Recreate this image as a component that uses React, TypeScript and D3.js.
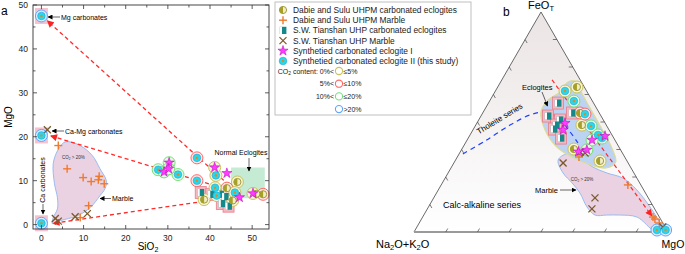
import React from 'react';
import * as d3 from 'd3';

type Pt = [number, number, number];
type Kind = 'dsEcl' | 'dsMar' | 'tsEcl' | 'tsMar' | 'syn1' | 'syn2';

// ===== Panel a: SiO2 (x) vs MgO (y), wt% ; third value = CO2 class (-1 none, 0: 0-5, 1: 5-10, 2: 10-20, 3: >20)
const aXTicks = [0, 10, 20, 30, 40, 50];
const aYTicks = [0, 10, 20, 30, 40, 50];
const aEndMembers: [string, number, number][] = [
  ['Mg carbonates', 0, 47.5],
  ['Ca-Mg carbonates', 0, 20.3],
  ['Ca carbonates', 0, 0.3],
];
const aSyn2: Pt[] = [
  [0, 47.5, 3], [0, 20.3, 3], [0, 0.3, 3], [27.7, 12.5, 2], [32.4, 11.4, 2], [36.9, 15.2, 1],
  [36.9, 10.0, 1], [41.4, 11.2, 0], [41.2, 8.4, 0], [41.6, 6.6, 0], [45.9, 7.3, 0],
];
const aSyn1: Pt[] = [
  [30.3, 14.1, 2], [29.1, 12.0, 2], [30.2, 12.7, 2], [41.1, 13.0, 0], [44.0, 11.7, -1], [47.0, 6.2, -1], [50.2, 7.1, 0],
];
const aDsEcl: Pt[] = [
  [46.5, 9.7, 0], [52.6, 6.9, 1], [38.6, 5.7, 0], [45.4, 5.5, 0], [44.0, 8.3, 1], [51.0, 7.0, -1],
];
const aTsEcl: Pt[] = [
  [37.8, 7.3, 1], [40.3, 6.9, 1], [42.5, 6.9, 1], [43.6, 6.4, 1], [42.8, 4.8, 1], [44.4, 4.2, 1],
];
const aDsMar: Pt[] = [
  [4.0, 18.0, -1], [6.1, 12.7, -1], [9.9, 10.7, -1], [11.8, 9.8, -1], [13.5, 10.2, -1], [13.7, 11.0, -1],
  [14.9, 9.3, -1], [11.2, 4.3, -1], [9.2, 1.6, -1],
];
const aTsMar: Pt[] = [
  [1.4, 21.6, -1], [3.3, 1.4, -1], [4.0, 0.8, -1], [8.0, 1.8, -1], [10.9, 2.5, -1],
];
// mixing lines: [from (eclogite end), to (carbonate end)]
const aMixLines: [number, number, number, number][] = [
  [44.5, 9.0, 1.4, 46.4],
  [44.5, 7.9, 2.2, 20.2],
  [43.5, 6.0, 2.8, 0.3],
];
const aMarbleOutline: [number, number][] = [
  [6.1, 18.9], [9.2, 18.0], [12.1, 15.7], [13.9, 12.7], [15.4, 10.0], [15.1, 8.2], [13.9, 6.6],
  [11.6, 3.9], [8.5, 2.0], [4.5, 0.9], [2.6, 0.2], [2.8, 1.6], [3.8, 3.6], [3.8, 6.1], [3.1, 9.3],
  [2.8, 13.9], [3.8, 16.8], [5.2, 18.6],
];
const aNormalEclogiteX = [45, 53];
const aNormalEclogiteY = [6, 13];

// ===== Panel b: ternary [FeOT %, MgO %] (Na2O+K2O = remainder)
const bTsEcl: Pt[] = [
  [58.6, 27.4, 1], [52.7, 26.4, 1], [54.1, 35.2, 1], [50.9, 32.0, 1], [48.6, 31.6, 1], [46.8, 31.7, 1], [42.7, 36.5, 1],
];
const bDsEcl: Pt[] = [
  [65.9, 31.2, 0], [54.1, 38.3, 1], [37.7, 44.1, 0], [32.3, 57.1, 0], [48.6, 41.8, 0],
];
const bSyn2: Pt[] = [
  [64.1, 27.4, 0], [59.5, 33.2, 2], [48.2, 45.6, 2], [44.1, 50.4, 2], [42.7, 52.7, 2], [53.6, 40.5, 1],
  [0.9, 95.2, 3], [0.9, 98.6, 3],
];
const bSyn1: Pt[] = [
  [49.5, 34.7, -1], [46.4, 35.5, -1], [41.8, 49.2, 2], [43.6, 53.4, -1], [37.3, 49.4, 2], [36.5, 46.5, -1],
];
const bTsMar: Pt[] = [
  [36.4, 47.2, -1], [35.9, 49.4, -1], [31.4, 43.0, -1], [15.5, 63.5, -1], [10.5, 64.8, -1], [2.3, 96.8, -1],
];
const bDsMar: Pt[] = [
  [34.1, 47.9, -1], [21.4, 73.5, -1], [6.8, 90.7, -1], [5.9, 91.9, -1], [4.1, 94.5, -1],
];
const bTholeiite: [number, number][] = [
  [35.5, 1.5], [41.4, 7.3], [48.6, 13.5], [53.2, 19.1], [54.5, 24.3], [51.8, 30.8], [45.5, 38.7], [40.5, 44.3],
];
const bTrend: [number, number][] = [[69.1, 19.8], [7.3, 90.0]];
const bEclogiteField: [number, number][] = [
  [63.6, 25.7], [68.2, 26.5], [68.6, 29.0], [63.6, 34.0], [58.2, 39.3], [48.6, 48.8], [38.2, 58.8],
  [31.8, 63.5], [29.1, 61.0], [30.9, 53.1], [34.5, 44.2], [39.1, 36.3], [46.4, 28.4], [54.5, 22.7], [60.0, 22.8],
];
const bMarbleField: [number, number][] = [
  [32.7, 40.4], [35.5, 42.5], [33.6, 48.5], [29.5, 55.7], [26.8, 62.6], [24.5, 70.0], [19.1, 78.2],
  [13.2, 85.2], [5.5, 93.5], [1.8, 97.0], [0.5, 94.6], [6.8, 84.4], [7.7, 77.2], [7.7, 72.1], [7.7, 67.4],
  [11.4, 62.4], [17.7, 56.5], [22.3, 51.1], [26.8, 45.3],
];

const legendKinds: Kind[] = ['dsEcl', 'dsMar', 'tsEcl', 'tsMar', 'syn1', 'syn2'];
const legendLabels = [
  'Dabie and Sulu UHPM carbonated eclogites',
  'Dabie and Sulu UHPM Marble',
  'S.W. Tianshan UHP carbonated eclogites',
  'S.W. Tianshan UHP Marble',
  'Synthetied carbonated eclogite I',
  'Synthetied carbonated eclogite II (this study)',
];
const co2Before = ['0%<', '5%<', '10%<', ''];
const co2After = ['≤5%', '≤10%', '≤20%', '>20%'];

// ===== styles
const FONT = 'Liberation Sans, Arial, sans-serif';
const ringStroke = ['#c8c25a', '#ff6868', '#78e078', '#5aa4ff'];
const ringFill = ['#f7f4d8', '#ffe4e4', '#e4f9e4', '#dcecff'];

// scales panel a
const A = { left: 33, right: 269, top: 5, bottom: 229 };
const xA = d3.scaleLinear().domain([-2, 54]).range([A.left, A.right]);
const yA = d3.scaleLinear().domain([-1, 50]).range([A.bottom, A.top]);

// ternary geometry
const TA = { x: 541, y: 12 };
const TL = { x: 414, y: 232 };
const TR = { x: 668, y: 232 };
const tern = (F: number, M: number): [number, number] => {
  const a = 100 - F - M;
  return [
    (a * TL.x + F * TA.x + M * TR.x) / 100,
    (a * TL.y + F * TA.y + M * TR.y) / 100,
  ];
};

const starPath = d3.symbol().type(d3.symbolStar).size(32)() as string;

function Glyph({ kind, x, y }: { kind: Kind; x: number; y: number }) {
  const t = `translate(${x},${y})`;
  switch (kind) {
    case 'dsEcl':
      return (
        <g transform={t}>
          <circle r={3.6} fill="#f1edc6" stroke="#8a861a" strokeWidth={0.8} />
          <path d="M0,-3.6 A3.6,3.6 0 0,0 0,3.6 Z" fill="#a6a126" />
        </g>
      );
    case 'dsMar':
      return (
        <g transform={t} stroke="#ee7a2e" strokeWidth={1.4}>
          <line x1={-4} x2={4} y1={0} y2={0} />
          <line x1={0} x2={0} y1={-4} y2={4} />
        </g>
      );
    case 'tsEcl':
      return (
        <g transform={t}>
          <rect x={-3.2} y={-3.6} width={6.6} height={7.2} fill="#15888a" />
          <rect x={-3.2} y={-3.6} width={2.2} height={7.2} fill="#ffffff" />
        </g>
      );
    case 'tsMar':
      return (
        <g transform={t} stroke="#7a5a2c" strokeWidth={1.3}>
          <line x1={-3.5} x2={3.5} y1={-3.5} y2={3.5} />
          <line x1={-3.5} x2={3.5} y1={3.5} y2={-3.5} />
        </g>
      );
    case 'syn1':
      return <path transform={t} d={starPath} fill="#ff3cff" stroke="#b000b0" strokeWidth={0.5} />;
    case 'syn2':
    default:
      return (
        <g transform={t}>
          <circle r={3.8} fill="#22dcec" stroke="#2a9fd6" strokeWidth={0.6} />
          <circle r={1.3} fill="#e3872c" />
        </g>
      );
  }
}

function Halo({ kind, x, y, c }: { kind: Kind; x: number; y: number; c: number }) {
  if (kind === 'tsEcl')
    return <rect x={x - 5.5} y={y - 6} width={11} height={12} fill="#f4b8c0" stroke="#e87c88" strokeWidth={0.8} />;
  if (c < 0) return null;
  return <circle cx={x} cy={y} r={6} fill={ringFill[c]} stroke={ringStroke[c]} strokeWidth={1} />;
}

type Series = { kind: Kind; pts: Pt[] };

export default function App() {
  const aSeries: Series[] = [
    { kind: 'dsMar', pts: aDsMar },
    { kind: 'tsMar', pts: aTsMar },
    { kind: 'tsEcl', pts: aTsEcl },
    { kind: 'dsEcl', pts: aDsEcl },
    { kind: 'syn2', pts: aSyn2 },
    { kind: 'syn1', pts: aSyn1 },
  ];
  const bSeries: Series[] = [
    { kind: 'dsMar', pts: bDsMar },
    { kind: 'tsMar', pts: bTsMar },
    { kind: 'tsEcl', pts: bTsEcl },
    { kind: 'dsEcl', pts: bDsEcl },
    { kind: 'syn2', pts: bSyn2 },
    { kind: 'syn1', pts: bSyn1 },
  ];

  const closedA = d3.line<[number, number]>().x((d) => xA(d[0])).y((d) => yA(d[1])).curve(d3.curveCatmullRomClosed.alpha(0.5));
  const closedB = d3.line<[number, number]>().x((d) => tern(d[0], d[1])[0]).y((d) => tern(d[0], d[1])[1]).curve(d3.curveCatmullRomClosed.alpha(0.5));
  const openB = d3.line<[number, number]>().x((d) => tern(d[0], d[1])[0]).y((d) => tern(d[0], d[1])[1]).curve(d3.curveCatmullRom.alpha(0.5));

  const xMinor = d3.range(5, 50, 10);
  const yMinor = d3.range(5, 50, 10);

  const ternTicks = d3.range(1, 8).map((i) => i / 8);

  return (
    <svg width={685} height={254} style={{ position: 'absolute', left: 0, top: 0, display: 'block' }} fontFamily={FONT}>
      <defs>
        <marker id="arrK" viewBox="0 0 10 10" refX="9" refY="5" markerWidth="5" markerHeight="5" orient="auto" markerUnits="userSpaceOnUse">
          <path d="M0,0 L10,5 L0,10 z" fill="#000" />
        </marker>
        <marker id="arrR" viewBox="0 0 10 10" refX="9" refY="5" markerWidth="8" markerHeight="7" orient="auto" markerUnits="userSpaceOnUse">
          <path d="M0,0 L10,5 L0,10 z" fill="#ff2020" />
        </marker>
        <linearGradient id="tgrad" x1="0" y1="0" x2="0" y2="1">
          <stop offset="0" stopColor="#ebe4e4" />
          <stop offset="1" stopColor="#ffffff" />
        </linearGradient>
      </defs>
      <rect width={685} height={254} fill="#fff" />

      {/* ================= Panel a ================= */}
      <text x={1} y={15} fontSize={12}>a</text>
      <rect
        x={xA(aNormalEclogiteX[0])}
        y={yA(aNormalEclogiteY[1])}
        width={xA(aNormalEclogiteX[1]) - xA(aNormalEclogiteX[0])}
        height={yA(aNormalEclogiteY[0]) - yA(aNormalEclogiteY[1])}
        fill="#c6ebd5"
      />
      <path d={closedA(aMarbleOutline) as string} fill="#ead2e2" stroke="#8fb6ef" strokeWidth={0.9} />
      <text x={62} y={159} fontSize={4.5} fill="#333">CO<tspan dy={1} fontSize={3.2}>2</tspan><tspan dy={-1}> &gt; 20%</tspan></text>
      {aEndMembers.map(([n, x, y]) => (
        <rect key={n} x={xA(x) - 6.5} y={yA(y) - 8} width={13} height={16} fill="#f6c3cc" />
      ))}
      {aMixLines.map(([x1, y1, x2, y2], i) => (
        <line key={i} x1={xA(x1)} y1={yA(y1)} x2={xA(x2)} y2={yA(y2)} stroke="#ff2a2a" strokeWidth={1.3} strokeDasharray="4,3" markerEnd="url(#arrR)" />
      ))}
      {aSeries.map((s) => s.pts.map((p, i) => <Halo key={s.kind + 'h' + i} kind={s.kind} x={xA(p[0])} y={yA(p[1])} c={p[2]} />))}
      {aSeries.map((s) => s.pts.map((p, i) => <Glyph key={s.kind + 'g' + i} kind={s.kind} x={xA(p[0])} y={yA(p[1])} />))}

      <rect x={A.left} y={A.top} width={A.right - A.left} height={A.bottom - A.top} fill="none" stroke="#333" strokeWidth={0.9} />
      {aXTicks.map((t) => (
        <g key={'xt' + t}>
          <line x1={xA(t)} x2={xA(t)} y1={A.bottom} y2={A.bottom - 4} stroke="#333" strokeWidth={0.8} />
          <line x1={xA(t)} x2={xA(t)} y1={A.top} y2={A.top + 4} stroke="#333" strokeWidth={0.8} />
          <text x={xA(t)} y={A.bottom + 11.5} fontSize={8.5} textAnchor="middle" fill="#222">{t}</text>
        </g>
      ))}
      {xMinor.map((t) => (
        <g key={'xm' + t}>
          <line x1={xA(t)} x2={xA(t)} y1={A.bottom} y2={A.bottom - 2.5} stroke="#333" strokeWidth={0.8} />
          <line x1={xA(t)} x2={xA(t)} y1={A.top} y2={A.top + 2.5} stroke="#333" strokeWidth={0.8} />
        </g>
      ))}
      {aYTicks.map((t) => (
        <g key={'yt' + t}>
          <line x1={A.left} x2={A.left + 4} y1={yA(t)} y2={yA(t)} stroke="#333" strokeWidth={0.8} />
          <line x1={A.right} x2={A.right - 4} y1={yA(t)} y2={yA(t)} stroke="#333" strokeWidth={0.8} />
          <text x={A.left - 5} y={yA(t) + 3} fontSize={8.5} textAnchor="end" fill="#222">{t}</text>
        </g>
      ))}
      {yMinor.map((t) => (
        <g key={'ym' + t}>
          <line x1={A.left} x2={A.left + 2.5} y1={yA(t)} y2={yA(t)} stroke="#333" strokeWidth={0.8} />
          <line x1={A.right} x2={A.right - 2.5} y1={yA(t)} y2={yA(t)} stroke="#333" strokeWidth={0.8} />
        </g>
      ))}
      <text transform="translate(12,117) rotate(-90)" fontSize={10} textAnchor="middle">MgO</text>
      <text x={148} y={250} fontSize={10} textAnchor="middle">SiO<tspan dy={2} fontSize={7}>2</tspan></text>

      <text x={61} y={19.5} fontSize={7}>Mg carbonates</text>
      <line x1={60} y1={17} x2={48} y2={17} stroke="#000" strokeWidth={0.6} markerEnd="url(#arrK)" />
      <text x={65} y={133.5} fontSize={7}>Ca-Mg carbonates</text>
      <line x1={64} y1={131} x2={52} y2={131} stroke="#000" strokeWidth={0.6} markerEnd="url(#arrK)" />
      <text transform="translate(45,180) rotate(-90)" fontSize={7} textAnchor="middle">Ca carbonates</text>
      <line x1={43} y1={204} x2={43} y2={214} stroke="#000" strokeWidth={0.6} markerEnd="url(#arrK)" />
      <text x={112} y={201} fontSize={7}>Marble</text>
      <line x1={111} y1={198.5} x2={100} y2={198.5} stroke="#000" strokeWidth={0.6} markerEnd="url(#arrK)" />
      <text x={241} y={155} fontSize={7} textAnchor="middle">Normal Eclogites</text>
      <line x1={249} y1={158} x2={249} y2={171} stroke="#000" strokeWidth={0.6} markerEnd="url(#arrK)" />

      {/* ================= Legend ================= */}
      <rect x={275} y={2} width={196} height={113} fill="#fff" stroke="#b0b0b0" strokeWidth={0.8} />
      {legendKinds.map((k, i) => (
        <g key={'lg' + k}>
          <Glyph kind={k} x={283} y={10 + i * 10.2} />
          <text x={293} y={10 + i * 10.2 + 3} fontSize={8.4} fill="#222">{legendLabels[i]}</text>
        </g>
      ))}
      {co2After.map((t, i) => {
        const y = 71 + i * 12.7;
        return (
          <g key={'co2' + i}>
            {i === 0 ? (
              <text x={334} y={y + 2.5} fontSize={7} textAnchor="end" fill="#222">
                CO<tspan dy={1.5} fontSize={5}>2</tspan><tspan dy={-1.5}> content: {co2Before[i]}</tspan>
              </text>
            ) : (
              <text x={334} y={y + 2.5} fontSize={7} textAnchor="end" fill="#222">{co2Before[i]}</text>
            )}
            <circle cx={339} cy={y} r={3.6} fill="none" stroke={ringStroke[i]} strokeWidth={1.1} />
            <text x={343.5} y={y + 2.5} fontSize={7} fill="#222">{t}</text>
          </g>
        );
      })}

      {/* ================= Panel b ================= */}
      <text x={503} y={16} fontSize={12}>b</text>
      <path d={`M${TL.x},${TL.y} L${TA.x},${TA.y} L${TR.x},${TR.y} Z`} fill="url(#tgrad)" />
      <path d={closedB(bMarbleField) as string} fill="#ead2e2" stroke="#8fb6ef" strokeWidth={0.9} />
      <path d={closedB(bEclogiteField) as string} fill="#bcd3f3" stroke="#dcdc96" strokeWidth={1.2} />
      <path d={openB(bTholeiite) as string} fill="none" stroke="#2040ff" strokeWidth={1.2} strokeDasharray="5,4" />
      <line
        x1={tern(bTrend[0][0], bTrend[0][1])[0]}
        y1={tern(bTrend[0][0], bTrend[0][1])[1]}
        x2={tern(bTrend[1][0], bTrend[1][1])[0]}
        y2={tern(bTrend[1][0], bTrend[1][1])[1]}
        stroke="#ff2a2a" strokeWidth={1.2} strokeDasharray="4,3" markerEnd="url(#arrR)"
      />
      <line x1={TL.x} y1={TL.y} x2={TA.x} y2={TA.y} stroke="#444" strokeWidth={0.8} />
      <line x1={TA.x} y1={TA.y} x2={TR.x} y2={TR.y} stroke="#444" strokeWidth={0.8} />
      <line x1={TL.x} y1={TL.y} x2={TR.x} y2={TR.y} stroke="#9a9a9a" strokeWidth={2} />
      {ternTicks.map((f, i) => {
        const bx = TL.x + f * (TR.x - TL.x);
        const lx = TL.x + f * (TA.x - TL.x);
        const ly = TL.y + f * (TA.y - TL.y);
        const rx = TA.x + f * (TR.x - TA.x);
        const ry = TA.y + f * (TR.y - TA.y);
        return (
          <g key={'tt' + i} stroke="#444" strokeWidth={0.7}>
            <line x1={bx} y1={TL.y} x2={bx + 2} y2={TL.y - 3.5} />
            <line x1={lx} y1={ly} x2={lx + 2} y2={ly + 3.5} />
            <line x1={rx} y1={ry} x2={rx - 4} y2={ry} />
          </g>
        );
      })}
      {bSeries.map((s) => s.pts.map((p, i) => {
        const [x, y] = tern(p[0], p[1]);
        return <Halo key={s.kind + 'bh' + i} kind={s.kind} x={x} y={y} c={p[2]} />;
      }))}
      {bSeries.map((s) => s.pts.map((p, i) => {
        const [x, y] = tern(p[0], p[1]);
        return <Glyph key={s.kind + 'bg' + i} kind={s.kind} x={x} y={y} />;
      }))}

      <text x={541} y={9} fontSize={11} textAnchor="middle">FeO<tspan dy={2} fontSize={7.5}>T</tspan></text>
      <text x={376} y={248} fontSize={11}>
        Na<tspan dy={2} fontSize={7.5}>2</tspan><tspan dy={-2}>O+K</tspan><tspan dy={2} fontSize={7.5}>2</tspan><tspan dy={-2}>O</tspan>
      </text>
      <text x={673} y={248} fontSize={10.5} textAnchor="middle">MgO</text>

      <text x={522} y={89.5} fontSize={7.5}>Eclogites</text>
      <line x1={542} y1={92} x2={547.5} y2={106} stroke="#000" strokeWidth={0.6} markerEnd="url(#arrK)" />
      <text transform="translate(501,121) rotate(-31)" fontSize={8} textAnchor="middle">Tholeite series</text>
      <text x={443} y={208} fontSize={9}>Calc-alkaline series</text>
      <text x={535} y={192.5} fontSize={7.5}>Marble</text>
      <line x1={560} y1={190} x2={576} y2={190} stroke="#000" strokeWidth={0.6} markerEnd="url(#arrK)" />
      <text x={582} y={181} fontSize={4.5} textAnchor="middle" fill="#333">CO<tspan dy={1} fontSize={3.2}>2</tspan><tspan dy={-1}> &gt; 20%</tspan></text>
    </svg>
  );
}
